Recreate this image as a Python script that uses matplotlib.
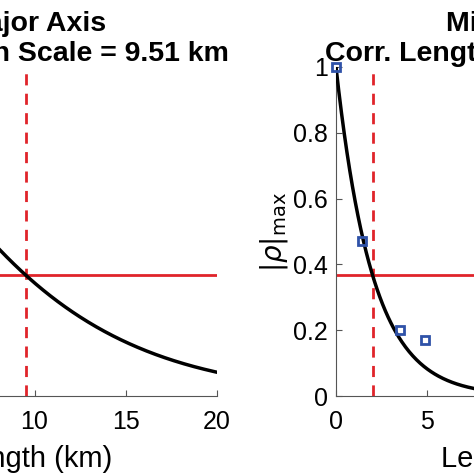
import numpy as np
import matplotlib
matplotlib.use("Agg")
import matplotlib.pyplot as plt

plt.rcParams['font.family'] = ['Liberation Sans', 'DejaVu Sans']

# data
major_L = 9.51
major_p = 1.3
minor_L = 2.00
minor_x = [0.0, 1.4, 3.5, 4.9]
minor_rho = [1.0, 0.47, 0.20, 0.17]
efold = np.exp(-1)

W = H = 474.0
fig = plt.figure(figsize=(4.74, 4.74), dpi=100)
bottom = (H - 396) / H
height = 329 / H
axL = fig.add_axes([-148 / W, bottom, 365 / W, height])
axR = fig.add_axes([336 / W, bottom, 365 / W, height])

red = '#e0242a'
xs = np.linspace(0, 20, 400)
axL.plot(xs, np.exp(-(xs / major_L) ** major_p), color='k', lw=2.5, zorder=3)
axL.axhline(efold, color=red, lw=2)
axL.axvline(major_L, color=red, lw=2, ls=(0, (4, 3)))
axL.set_title('Major Axis\nCorr. Length Scale = %.2f km' % major_L,
              fontsize=20.5, fontweight='bold', pad=2)

axR.plot(xs, np.exp(-xs / minor_L), color='k', lw=2.5, zorder=3)
axR.plot(minor_x, minor_rho, 's', mfc='none', mec='#2f52a8', mew=2, ms=6,
         zorder=4, clip_on=False)
axR.axhline(efold, color=red, lw=2)
axR.axvline(minor_L, color=red, lw=2, ls=(0, (4, 3)))
axR.set_title('Minor Axis\nCorr. Length Scale = %.2f km' % minor_L,
              fontsize=20.5, fontweight='bold', pad=2)
axR.set_ylabel(r'$|\rho|_{\mathrm{max}}$', fontsize=20, labelpad=2)

for ax in (axL, axR):
    ax.set_xlim(0, 20)
    ax.set_ylim(0, 1)
    ax.set_xticks([0, 5, 10, 15, 20])
    ax.set_yticks([0, 0.2, 0.4, 0.6, 0.8, 1])
    ax.set_yticklabels(['0', '0.2', '0.4', '0.6', '0.8', '1'])
    ax.tick_params(direction='in', labelsize=18, color='#555555', length=4)
    ax.tick_params(axis='x', pad=10)
    ax.tick_params(axis='y', pad=6)
    ax.set_xlabel('Length (km)', fontsize=21, labelpad=8)
    for s in ('top', 'right'):
        ax.spines[s].set_visible(False)
    for s in ('left', 'bottom'):
        ax.spines[s].set_color('#555555')

fig.savefig('out.png', dpi=100)
